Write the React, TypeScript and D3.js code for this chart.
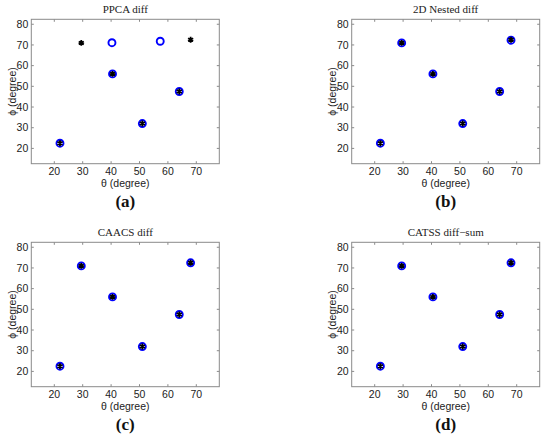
import { useMemo } from 'react';
import * as d3 from 'd3';

// true source directions (black asterisks)
const trueTheta = [22, 29.5, 40.5, 51, 64, 68];
const truePhi   = [22.5, 71, 56, 32, 47.5, 72.5];

// estimated directions per method (blue circles)
const ppcaTheta = [22, 40.3, 40.5, 51, 64, 57.3];
const ppcaPhi   = [22.5, 71.1, 56, 32, 47.5, 71.8];
const nestedTheta = [22, 29.5, 40.5, 51, 64, 68];
const nestedPhi   = [22.5, 71, 56, 32, 47.5, 72.3];
const caacsTheta = [22, 29.5, 40.5, 51, 64, 68];
const caacsPhi   = [22.5, 71, 56, 32, 47.5, 72.5];
const catssTheta = [22, 29.5, 40.5, 51, 64, 68];
const catssPhi   = [22.5, 71, 56, 32, 47.5, 72.5];

const titles = ['PPCA diff', '2D Nested diff', 'CAACS diff', 'CATSS diff\u2212sum'];
const tags   = ['(a)', '(b)', '(c)', '(d)'];
const xTicks = [20, 30, 40, 50, 60, 70];
const yTicks = [20, 30, 40, 50, 60, 70, 80];

const SANS  = '"Liberation Sans", Arial, sans-serif';
const SERIF = '"Liberation Serif", "Times New Roman", serif';

interface PanelProps {
  ox: number;
  oy: number;
  title: string;
  tag: string;
  estTheta: number[];
  estPhi: number[];
}

function Panel({ ox, oy, title, tag, estTheta, estPhi }: Readonly<PanelProps>) {
  // plot box in panel coordinates
  const L = 31.3, R = 219.3, T = 19.3, B = 163.7;
  const x = d3.scaleLinear().domain([11.9, 78.1]).range([L, R]);
  const y = d3.scaleLinear().domain([12.6, 82.4]).range([B, T]);
  const star = useMemo(() => d3.symbol(d3.symbolAsterisk, 24)(), []) ?? '';
  const cx = (L + R) / 2;
  const axisCol = '#8a8a8a';
  const tk = 2.5;

  return (
    <g transform={`translate(${ox},${oy})`}>
      <rect x={L} y={T} width={R - L} height={B - T} fill="#fff" stroke={axisCol} strokeWidth={1} />
      {xTicks.map(v => (
        <g key={`x${v}`}>
          <line x1={x(v)} x2={x(v)} y1={B} y2={B - tk} stroke={axisCol} />
          <line x1={x(v)} x2={x(v)} y1={T} y2={T + tk} stroke={axisCol} />
          <text x={x(v)} y={B + 11.5} textAnchor="middle" fontSize={10.5} fontFamily={SANS} fill="#222">{v}</text>
        </g>
      ))}
      {yTicks.map(v => (
        <g key={`y${v}`}>
          <line x1={L} x2={L + tk} y1={y(v)} y2={y(v)} stroke={axisCol} />
          <line x1={R} x2={R - tk} y1={y(v)} y2={y(v)} stroke={axisCol} />
          <text x={L - 3} y={y(v)} dy="0.35em" textAnchor="end" fontSize={10.5} fontFamily={SANS} fill="#222">{v}</text>
        </g>
      ))}
      <text x={cx} y={13} textAnchor="middle" fontSize={11} fontFamily={SERIF} fill="#222">{title}</text>
      <text x={cx} y={186.5} textAnchor="middle" fontSize={10.5} fontFamily={SANS} fill="#222">θ (degree)</text>
      <text transform={`translate(12,${(T + B) / 2}) rotate(-90)`} textAnchor="middle" dy="0.35em"
        fontSize={10.5} fontFamily={SANS} fill="#222">ϕ (degree)</text>
      <text x={cx} y={207} textAnchor="middle" fontSize={17} fontWeight="bold" fontFamily={SERIF} fill="#111">{tag}</text>

      {/* estimates: blue circles */}
      {estTheta.map((t, i) => (
        <circle key={`e${i}`} cx={x(t)} cy={y(estPhi[i])} r={3.5} fill="none" stroke="#0000ff" strokeWidth={1.9} />
      ))}
      {/* ground truth: black asterisks */}
      {trueTheta.map((t, i) => (
        <path key={`t${i}`} d={star} transform={`translate(${x(t)},${y(truePhi[i])})`}
          fill="none" stroke="#000" strokeWidth={1.8} />
      ))}
    </g>
  );
}

export default function App() {
  const est = [
    [ppcaTheta, ppcaPhi],
    [nestedTheta, nestedPhi],
    [caacsTheta, caacsPhi],
    [catssTheta, catssPhi],
  ];
  const offs = [[0, 0], [320.4, 0], [0, 223], [320.4, 223]];
  return (
    <svg width={550} height={438} style={{ position: 'absolute', left: 0, top: 0, background: '#fff' }}>
      {est.map(([th, ph], i) => (
        <Panel key={i} ox={offs[i][0]} oy={offs[i][1]} title={titles[i]} tag={tags[i]} estTheta={th} estPhi={ph} />
      ))}
    </svg>
  );
}
